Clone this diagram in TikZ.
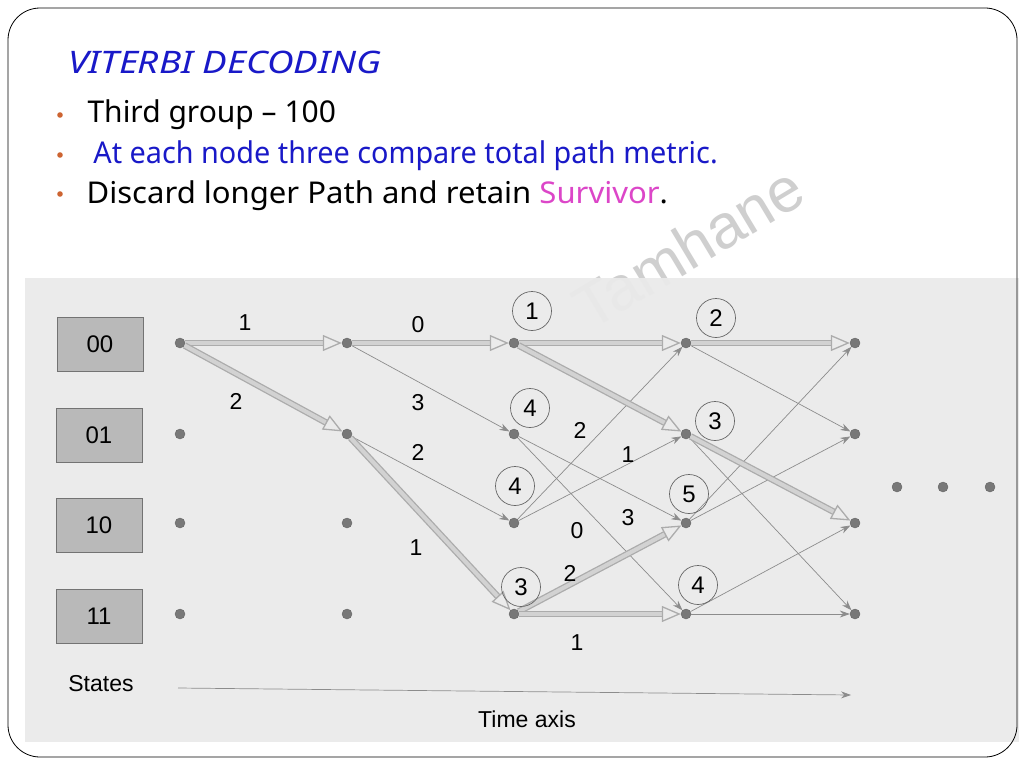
\documentclass[tikz,border=0pt]{standalone}
\usepackage{fontspec}
\setmainfont{Noto Sans}
\newfontfamily\figfont{Liberation Sans}
\usetikzlibrary{arrows.meta}
\definecolor{titleblue}{RGB}{25,25,200}
\definecolor{bulletorange}{RGB}{205,100,50}
\definecolor{survivormagenta}{RGB}{220,70,200}
\definecolor{scanbg}{RGB}{234,234,234}
\definecolor{boxgray}{RGB}{185,185,185}
\definecolor{dotgray}{RGB}{120,120,120}
\definecolor{edgegray}{RGB}{140,140,140}
\tikzset{
	trellisdot/.style={circle, fill=dotgray, draw=gray!80!black, inner sep=0pt, minimum size=10pt},
	statebox/.style={draw=gray!90!black, fill=boxgray, minimum width=86pt, minimum height=54pt, font=\figfont\fontsize{24}{24}\selectfont},
	metric/.style={circle, draw=gray!80!black, line width=0.7pt, minimum size=39pt, inner sep=0pt, font=\figfont\fontsize{24}{24}\selectfont},
	branch/.style={font=\figfont\fontsize{23}{23}\selectfont},
	slidetext/.style={anchor=base west, font=\fontsize{30}{30}\selectfont},
	branchline/.style={draw=edgegray, line width=0.7pt, -{Stealth[length=10pt,width=7pt]}},
	survivor/.style={draw=gray!65, double=gray!35, double distance=4pt, line width=1.3pt, -{Triangle[open,length=19pt,width=16pt]}},
}
\begin{document}
\begin{tikzpicture}[x=1pt,y=-1pt]
	\useasboundingbox (0,0) rectangle (1024,768);
	\fill[white] (0,0) rectangle (1024,768);
	% watermark under the scan
	\node[rotate=31, anchor=base west, inner sep=0pt, text=gray!38, font=\figfont\fontsize{62}{62}\selectfont] (mark) at (590,332) {Tamhane};
	\fill[scanbg, fill opacity=0.95] (25,278) rectangle (1019,742);
	\draw[line width=0.8pt, rounded corners=32pt] (8,8) rectangle (1017,757);
	% slide text
	\node[slidetext, xscale=1.19, text=titleblue, font=\itshape\fontsize{31}{31}\selectfont] (title) at (64,74) {VITERBI DECODING};
	\foreach \y in {115,155,194}
		\fill[bulletorange] (60,\y) circle (2.8pt);
	\node[slidetext] (b1) at (84,122) {Third group – 100};
	\node[slidetext, xscale=0.96, text=titleblue] (b2) at (90,163) {At each node three compare total path metric.};
	\node[slidetext, xscale=1.035] (b3) at (83,203) {Discard longer Path and retain \textcolor{survivormagenta}{Survivor}.};
	% states
	\node[statebox] (s00) at (100,344) {00};
	\node[statebox] (s01) at (99,435) {01};
	\node[statebox] (s10) at (99,525) {10};
	\node[statebox] (s11) at (99,616) {11};
	% trellis
	\foreach \c/\x in {0/180,1/347,2/514,3/686,4/855}
		\foreach \r/\y in {0/343,1/434,2/523,3/614}
			\node[trellisdot] (n\c\r) at (\x,\y) {};
	\node[trellisdot] (e1) at (897,487) {};
	\node[trellisdot] (e2) at (943,487) {};
	\node[trellisdot] (e3) at (990,487) {};
	\draw[branchline] (n10) -- (n21);
	\draw[branchline] (n11) -- (n22);
	\draw[branchline] (n22) -- (n30);
	\draw[branchline] (n22) -- (n31);
	\draw[branchline] (n21) -- (n32);
	\draw[branchline] (n21) -- (n33);
	\draw[branchline] (n30) -- (n41);
	\draw[branchline] (n31) -- (n43);
	\draw[branchline] (n32) -- (n40);
	\draw[branchline] (n32) -- (n41);
	\draw[branchline] (n33) -- (n42);
	\draw[branchline] (n33) -- (n43);
	\draw[survivor] (n00) -- (n10);
	\draw[survivor] (n00) -- (n11);
	\draw[survivor] (n10) -- (n20);
	\draw[survivor] (n11) -- (n23);
	\draw[survivor] (n20) -- (n30);
	\draw[survivor] (n20) -- (n31);
	\draw[survivor] (n23) -- (n32);
	\draw[survivor] (n23) -- (n33);
	\draw[survivor] (n30) -- (n40);
	\draw[survivor] (n31) -- (n42);
	% branch metrics
	\node[branch] (w1) at (245,323) {1};
	\node[branch] (w2) at (236,401) {2};
	\node[branch] (w3) at (418,325) {0};
	\node[branch] (w4) at (418,403) {3};
	\node[branch] (w5) at (418,452) {2};
	\node[branch] (w6) at (416,548) {1};
	\node[branch] (w7) at (580,430) {2};
	\node[branch] (w8) at (628,455) {1};
	\node[branch] (w9) at (628,518) {3};
	\node[branch] (w10) at (577,531) {0};
	\node[branch] (w11) at (570,573) {2};
	\node[branch] (w12) at (577,643) {1};
	% path metrics
	\node[metric] (m20) at (532,311) {1};
	\node[metric] (m21) at (530,408) {4};
	\node[metric] (m22) at (515,486) {4};
	\node[metric] (m23) at (521,587) {3};
	\node[metric] (m30) at (716,318) {2};
	\node[metric] (m31) at (715,421) {3};
	\node[metric] (m32) at (689,494) {5};
	\node[metric] (m33) at (698,585) {4};
	% axis
	\node[branch] (states) at (101,684) {States};
	\coordinate (t0) at (178,688);
	\coordinate (t1) at (851,695);
	\draw[branchline] (t0) -- (t1);
	\node[branch] (taxis) at (527,719) {Time axis};
\end{tikzpicture}
\end{document}
